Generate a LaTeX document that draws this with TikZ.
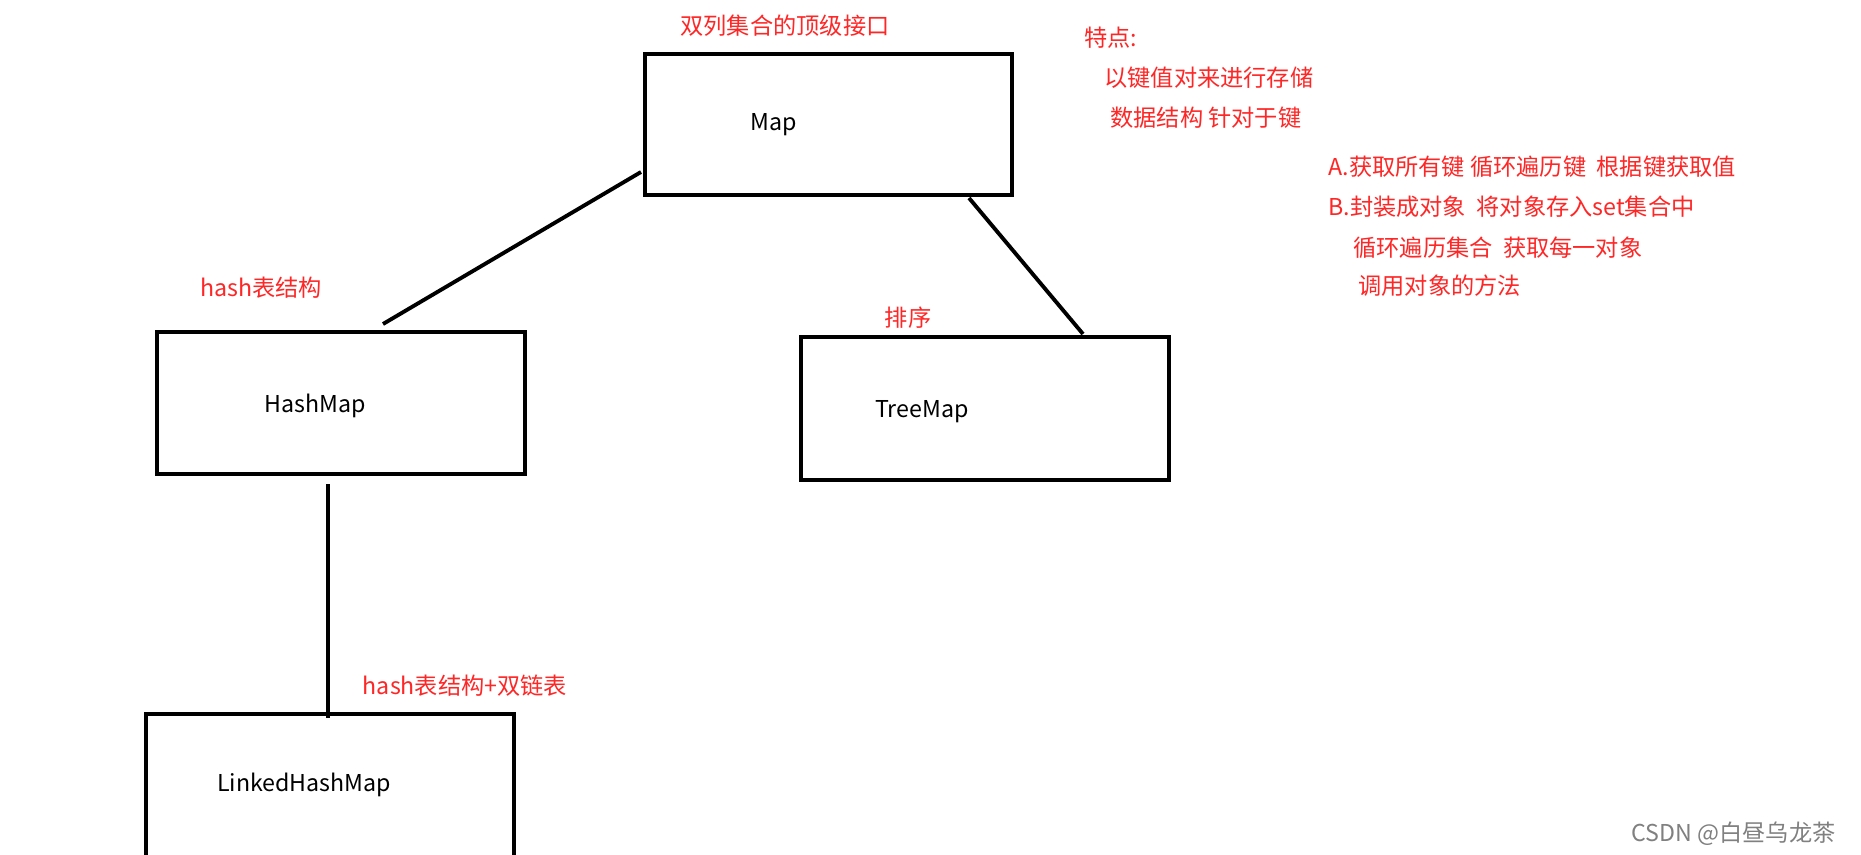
\documentclass[tikz,border=0pt]{standalone}
\usepackage{fontspec}
\setmainfont{Noto Sans CJK SC}
\begin{document}
\begin{tikzpicture}[x=0.01cm,y=-0.01cm,
  box/.style={draw,line width=1.1pt,anchor=north west,inner sep=0},
  lbl/.style={font=\fontsize{6.6}{8}\selectfont},
  red/.style={lbl,text=red!85!white},
  ln/.style={line width=1.1pt}]
\useasboundingbox[fill=white] (0,0) rectangle (1861,854);
\node[box,minimum width=3.67cm,minimum height=1.41cm] (map) at (643,52) {};
\node[box,minimum width=3.68cm,minimum height=1.42cm] (hm) at (155,330) {};
\node[box,minimum width=3.68cm,minimum height=1.43cm] (tm) at (799,335) {};
\node[box,minimum width=3.68cm,minimum height=1.45cm] (lhm) at (144,712) {};
\node[lbl] (tmap) at (774,125) {Map};
\node[lbl] (thm) at (315,406) {HashMap};
\node[lbl] (ttm) at (922,412) {TreeMap};
\node[lbl] (tlhm) at (304,785) {LinkedHashMap};
\coordinate (a1) at (641,172); \coordinate (a2) at (383,324);
\coordinate (b1) at (969,198); \coordinate (b2) at (1083,334);
\coordinate (c1) at (328,484); \coordinate (c2) at (328,718);
\draw[ln] (a1) -- (a2);
\draw[ln] (b1) -- (b2);
\draw[ln] (c1) -- (c2);
\node[red] (t0) at (785,26) {双列集合的顶级接口};
\node[red] (t1) at (261,288) {hash表结构};
\node[red] (t2) at (908,318) {排序};
\node[red] (t3) at (465,686) {hash表结构+双链表};
\node[red,anchor=west] (r1) at (1072,38) {特点:};
\node[red,anchor=west] (r2) at (1092,78) {以键值对来进行存储};
\node[red,anchor=west] (r3) at (1098,118) {数据结构 针对于键};
\node[red,anchor=west] (r4) at (1316,167) {A.获取所有键 循环遍历键\ \ 根据键获取值};
\node[red,anchor=west] (r5) at (1316,207) {B.封装成对象\ \ 将对象存入set集合中};
\node[red,anchor=west] (r6) at (1341,248) {循环遍历集合\ \ 获取每一对象};
\node[red,anchor=west] (r7) at (1346,286) {调用对象的方法};
\node[lbl,text=gray,anchor=east] (wm) at (1848,834) {CSDN @白昼乌龙茶};
\end{tikzpicture}
\end{document}
